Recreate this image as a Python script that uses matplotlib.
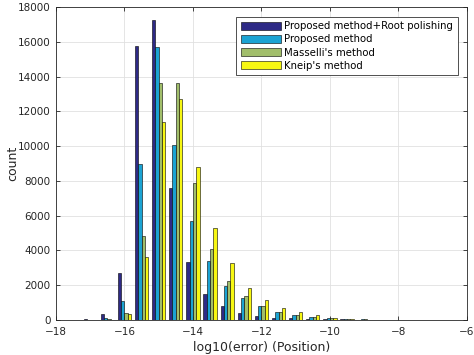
import numpy as np
import matplotlib.pyplot as plt

# Bin centres (log10 error)
bins = [-17, -16.5, -16, -15.5, -15, -14.5, -14, -13.5, -13, -12.5, -12,
        -11.5, -11, -10.5, -10, -9.5, -9, -8.5, -8, -7.5, -7]

root_polish = [30, 330, 2670, 15770, 17250, 7560, 3350, 1510, 770, 410, 250,
               135, 95, 58, 50, 40, 20, 15, 10, 5, 5]
proposed = [15, 100, 1060, 8980, 15730, 10080, 5670, 3385, 1960, 1230, 790,
            480, 290, 173, 130, 50, 30, 20, 10, 5, 5]
masselli = [10, 25, 385, 4810, 13650, 13650, 7850, 4100, 2240, 1346, 790,
            480, 290, 173, 120, 60, 30, 20, 10, 5, 5]
kneip = [10, 20, 330, 3615, 11400, 12730, 8790, 5308, 3269, 1846, 1154,
         654, 460, 288, 100, 60, 20, 15, 10, 5, 5]

series = [root_polish, proposed, masselli, kneip]
labels = ["Proposed method+Root polishing", "Proposed method",
          "Masselli's method", "Kneip's method"]
colors = ["#2e2a86", "#1ba3d3", "#a1be6b", "#f7f712"]

fig = plt.figure(figsize=(4.74, 3.55), dpi=100)
ax = fig.add_axes([0.118, 0.099, 0.867, 0.881])

w = 0.097
x = np.array(bins)
for i, (vals, lab, c) in enumerate(zip(series, labels, colors)):
    ax.bar(x + (i - 1.5) * w, vals, width=w, color=c, edgecolor="black",
           linewidth=0.4, label=lab, zorder=3)

ax.set_xlim(-18, -6)
ax.set_ylim(0, 18000)
ax.set_xticks(range(-18, -5, 2))
ax.set_yticks(range(0, 18001, 2000))
ax.tick_params(direction="in", top=True, right=True, labelsize=7.5, length=3,
               width=0.6, colors="#262626")
ax.tick_params(axis="x", pad=5)
ax.tick_params(axis="y", pad=4)
ax.grid(True, color="#e0e0e0", linewidth=0.6, zorder=0)
for s in ax.spines.values():
    s.set_linewidth(0.6)
    s.set_color("#262626")

ax.set_xlabel("log10(error) (Position)", fontsize=9, labelpad=3, color="#262626")
ax.set_ylabel("count", fontsize=9, color="#262626")
ax.yaxis.set_label_coords(-0.09, 0.5)

leg = ax.legend(loc="upper right", fontsize=7.3, frameon=True, fancybox=False,
                edgecolor="#333333", framealpha=1, borderpad=0.45,
                labelspacing=0.3, handlelength=4.0, handleheight=0.9,
                handletextpad=0.3, bbox_to_anchor=(0.99, 0.985))
leg.get_frame().set_linewidth(0.6)

fig.savefig("out.png", dpi=100)
